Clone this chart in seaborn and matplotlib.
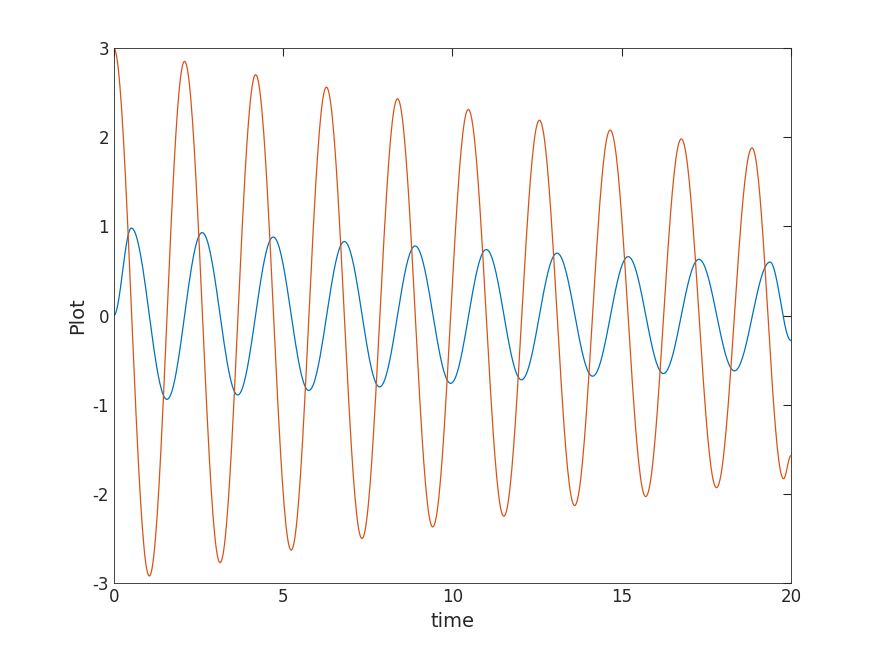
import numpy as np
import pandas as pd
import matplotlib
matplotlib.use("Agg")
import matplotlib.pyplot as plt
import seaborn as sns

# extrema (time, value)
blue_t = [0, 0.52, 1.57, 2.61, 3.66, 4.71, 5.76, 6.81, 7.85, 8.9, 9.95, 11.0,
          12.04, 13.09, 14.14, 15.19, 16.23, 17.28, 18.33, 19.38, 20.0]
blue_v = [0, 0.98, -0.94, 0.93, -0.89, 0.88, -0.84, 0.83, -0.80, 0.78, -0.76, 0.74,
          -0.72, 0.70, -0.68, 0.66, -0.65, 0.63, -0.62, 0.60, -0.28]
orange_t = [0, 1.05, 2.09, 3.14, 4.19, 5.24, 6.28, 7.33, 8.38, 9.42, 10.47, 11.52,
            12.57, 13.61, 14.66, 15.71, 16.76, 17.80, 18.85, 19.78, 20.0]
orange_v = [3.0, -2.92, 2.85, -2.77, 2.70, -2.63, 2.56, -2.50, 2.43, -2.37, 2.31, -2.25,
            2.19, -2.13, 2.08, -2.03, 1.98, -1.93, 1.88, -1.83, -1.57]


def smooth(ts, vs, n=40):
    # cosine-shaped half cycles between neighbouring extrema
    xs, ys = [], []
    for i in range(len(ts) - 1):
        s = np.linspace(0, 1, n, endpoint=False)
        xs.extend(ts[i] + (ts[i + 1] - ts[i]) * s)
        ys.extend(vs[i] + (vs[i + 1] - vs[i]) * (1 - np.cos(np.pi * s)) / 2)
    xs.append(ts[-1])
    ys.append(vs[-1])
    return xs, ys


bx, by = smooth(blue_t, blue_v)
ox, oy = smooth(orange_t, orange_v)
df = pd.concat([
    pd.DataFrame({"time": bx, "Plot": by, "s": "x"}),
    pd.DataFrame({"time": ox, "Plot": oy, "s": "v"}),
])

sns.set_style("white")
plt.rcParams["axes.unicode_minus"] = False
fig = plt.figure(figsize=(8.75, 6.56), dpi=100)
ax = fig.add_axes([0.13, 0.111, 0.774, 0.816])
sns.lineplot(data=df, x="time", y="Plot", hue="s", palette=["#0072BD", "#D95319"],
             linewidth=0.9, legend=False, ax=ax, sort=False, estimator=None)
ax.set_xlim(0, 20)
ax.set_ylim(-3, 3)
ax.set_xticks([0, 5, 10, 15, 20])
ax.set_yticks(range(-3, 4))
ax.tick_params(direction="in", length=6, labelsize=12, top=True, right=True, colors="#262626")
for sp in ax.spines.values():
    sp.set_color("#262626")
    sp.set_linewidth(0.6)
ax.set_xlabel("time", fontsize=14, color="#262626")
ax.set_ylabel("Plot", fontsize=14, color="#262626")
fig.savefig("out.png", dpi=100)
